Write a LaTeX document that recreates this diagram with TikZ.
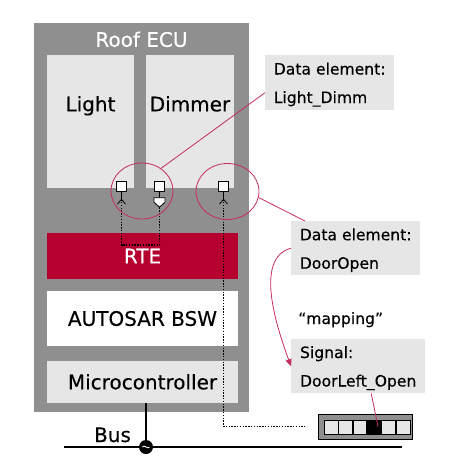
\documentclass[tikz,border=0pt]{standalone}
\usepackage{fontspec}
\setmainfont[FakeBold=0.3]{DejaVu Sans}
\usetikzlibrary{positioning,shapes.geometric,arrows.meta}
\definecolor{ecugray}{RGB}{143,143,143}
\definecolor{boxgray}{RGB}{230,230,230}
\definecolor{rtered}{RGB}{181,0,48}
\definecolor{linered}{RGB}{196,45,92}

\begin{document}
\begin{tikzpicture}[x = 1pt, y = -1pt,
layer/.style = {shape = rectangle, inner sep = 0pt, font = \fontsize{20}{24}\selectfont, text height = 14.6pt, text depth = 0pt},
swc/.style = {fill = boxgray, shape = rectangle, minimum width = 87pt, minimum height = 133pt},
port/.style = {draw, fill = white, shape = rectangle, inner sep = 0pt, minimum size = 9.5pt, line width = 0.8pt},
zoomring/.style = {draw = linered, shape = ellipse, line width = 0.8pt, inner sep = 0pt, minimum width = 62pt, minimum height = 56pt},
note/.style = {fill = boxgray, shape = rectangle, anchor = north west, align = left, inner xsep = 0pt, inner ysep = 0pt, font = \fontsize{15.6}{28.5}\selectfont},
dotline/.style = {dash pattern = on 1.4pt off 1.4pt, line width = 1.5pt},
redline/.style = {draw = linered, line width = 0.8pt},
cell/.style = {draw, fill = boxgray, shape = rectangle, inner sep = 0pt, minimum width = 13.8pt, minimum height = 14pt, line width = 0.6pt}
]
\useasboundingbox (0,0) rectangle (452,469);
\node[fill = ecugray, shape = rectangle, inner sep = 0pt, minimum width = 215pt, minimum height = 389pt] (ecu) at (141.5,217.5) {};
\node[layer, text = white] (ecutitle) at (141.5,39.5) {Roof ECU};
\node[swc] (light) at (90.5,121.5) {};
\node[swc, minimum width = 88pt] (dimmer) at (190,121.5) {};
\node[layer] (lighttxt) at (90.5,104) {Light};
\node[layer] (dimmertxt) at (190,104) {Dimmer};
\node[layer, fill = rtered, text = white, minimum width = 191pt, minimum height = 46pt] (rte) at (142.5,256) {RTE};
\node[layer, fill = white, minimum width = 191pt, minimum height = 55pt] (bsw) at (142.5,318.5) {AUTOSAR BSW};
\node[layer, fill = boxgray, minimum width = 191pt, minimum height = 42pt] (mcu) at (142.5,382) {Microcontroller};

\node[port] (lp) at (121.5,186.5) {};
\node[port] (dp) at (159.5,186.5) {};
\node[port] (rp) at (223.5,186.5) {};
\begin{scope}[line width = 0.8pt]
\draw (lp.south) -- ++(0,7.5) coordinate (lpa);
\draw ([shift={(-4,5)}]lpa) -- (lpa) -- ([shift={(4,5)}]lpa);
\draw (rp.south) -- ++(0,7.5) coordinate (rpa);
\draw ([shift={(-4,5)}]rpa) -- (rpa) -- ([shift={(4,5)}]rpa);
\draw (dp.south) -- ++(0,6) coordinate (dtop);
\draw[fill = white] ([xshift=-5.5pt]dtop) -- ([xshift=5.5pt]dtop) -- ++(0,4.5) -- ++(-5.5,5) coordinate (dtip) -- ++(-5.5,-5) -- cycle;
\end{scope}

\node[draw, fill = ecugray, shape = rectangle, inner sep = 0pt, minimum width = 94pt, minimum height = 25pt, line width = 0.8pt] (frame) at (365,426.5) {};
\node[cell] (c1) at (330.9,427) {};
\node[cell, right = 0pt of c1] (c2) {};
\node[cell, right = 0pt of c2] (c3) {};
\node[cell, fill = black, right = 0pt of c3] (c4) {};
\node[cell, right = 0pt of c4] (c5) {};
\node[cell, right = 0pt of c5] (c6) {};

\draw[dotline] (lpa) -- ++(0,46) -| (dtip);
\draw[dotline] (rpa) |- ([xshift=-13pt]frame.west);

\node[zoomring] (ring1) at (142,191) {};
\node[zoomring, minimum width = 63pt] (ring2) at (227.5,191.5) {};

\node[note, minimum width = 129pt, minimum height = 55pt] (dimmnote) at (265,55) {\rule{0pt}{15.8pt}Data element:\\Light\_Dimm};
\node[note, minimum width = 129pt, minimum height = 54pt] (doornote) at (291,221) {\rule{0pt}{15.8pt}Data element:\\DoorOpen};
\node[note, minimum width = 134pt, minimum height = 54pt] (signote) at (291,339) {\rule{0pt}{15.8pt}Signal:\\DoorLeft\_Open};
\node[anchor = base west, inner sep = 0pt, font = \fontsize{15.6}{18}\selectfont] (maptxt) at (298,324) {“mapping”};

\draw[redline] (ring1.50) -- ([yshift=-10pt]dimmnote.west);
\draw[redline] (ring2.-11) -- ([xshift=14pt]doornote.north west);
\draw[redline, -{Triangle[length=7pt, width=6pt]}] (doornote.west) to[out=195, in=110, looseness=0.85] (signote.west);
\draw[redline] ([xshift=13pt]signote.south) -- ([xshift=4pt]c4.center);

\coordinate (busl) at (64,447);
\coordinate (busr) at (402,447);
\draw[line width = 1.5pt] (busl) -- (busr);
\node[circle, fill = black, minimum size = 14pt, inner sep = 0pt] (tap) at (146,447) {};
\draw[line width = 1.5pt] (tap) -- (tap |- mcu.south);
\draw[white, line width = 0.9pt] ([xshift=-3.5pt]tap.center) .. controls +(1.5pt,3pt) and +(-1.5pt,-3pt) .. ([xshift=3.5pt]tap.center);
\node[anchor = base, inner sep = 0pt, font = \fontsize{20}{24}\selectfont] (buslabel) at (112.5,442) {Bus};
\end{tikzpicture}
\end{document}
